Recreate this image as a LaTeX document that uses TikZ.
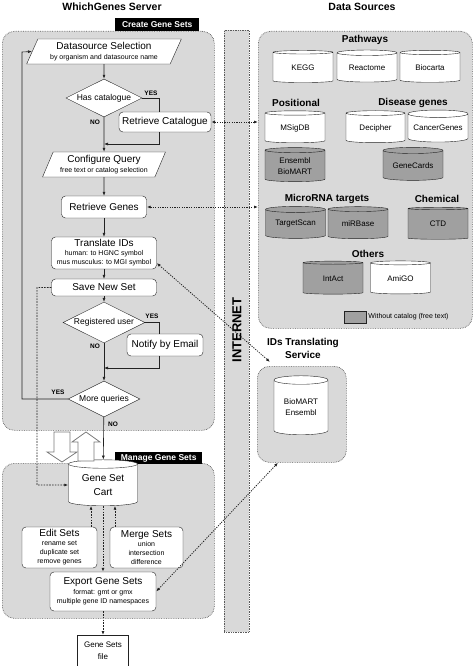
\documentclass[tikz,border=0pt]{standalone}
\usepackage{fontspec}
\setmainfont{Liberation Sans}
\usetikzlibrary{arrows.meta,positioning,shapes.geometric}
\definecolor{WgPanel}{HTML}{D9D9D9}
\definecolor{WgEdge}{HTML}{5A5A5A}
\definecolor{WgDark}{HTML}{A0A0A0}
\definecolor{WgInk}{HTML}{222222}
\definecolor{WgArrow}{HTML}{7A7A7A}
\newcommand{\bigline}[1]{{\fontsize{10}{12}\selectfont #1}}

\begin{document}
\begin{tikzpicture}[x=1pt,y=-1pt,>={Latex[length=4pt,width=3pt]}]
  \tikzset{
    panel/.style={draw=WgEdge, densely dotted, line width=0.7pt, fill=WgPanel, rounded corners=12pt, anchor=north west, inner sep=0pt},
    tag/.style={fill=black, text=white, font=\bfseries\fontsize{8.5}{10}\selectfont, inner sep=0pt, anchor=north west},
    head/.style={font=\bfseries\fontsize{10.5}{12}\selectfont},
    grp/.style={font=\bfseries\fontsize{10}{13}\selectfont, align=center},
    procbox/.style={draw=WgInk, fill=white, rounded corners=4pt, align=center, inner sep=1pt, font=\fontsize{7}{9}\selectfont},
    bigbox/.style={procbox, font=\fontsize{10}{12}\selectfont},
    iobox/.style={trapezium, trapezium left angle=64, trapezium right angle=116, trapezium stretches=true, draw=WgInk, fill=white, align=center, inner sep=0pt, font=\fontsize{7}{9}\selectfont, minimum height=25pt},
    choice/.style={diamond, aspect=2, draw=WgInk, fill=white, inner sep=1pt, font=\fontsize{8.5}{10}\selectfont},
    db/.style={cylinder, shape border rotate=90, aspect=0.15, draw=WgInk, fill=white, align=center, inner sep=0pt, font=\fontsize{8}{10.5}\selectfont, minimum width=60pt, minimum height=32pt},
    dbgray/.style={db, fill=WgDark},
    flow/.style={->, draw=WgInk, line width=0.6pt},
    plain/.style={draw=WgInk, line width=0.6pt},
    feed/.style={->, draw=WgInk, line width=0.8pt, dash pattern=on 1.6pt off 1.2pt},
    link/.style={<->, draw=WgInk, line width=0.8pt, dash pattern=on 1.2pt off 1.2pt},
    ans/.style={font=\bfseries\fontsize{6.5}{7}\selectfont, inner sep=0pt},
    hollow/.style={draw=WgArrow, fill=white, line width=0.8pt}
  }
  \useasboundingbox (0,0) rectangle (474,666);
  % headers
  \node[head] (srvhead) at (112,7) {WhichGenes Server};
  \node[head] (srchead) at (362,7) {Data Sources};
  % panels
  \node[panel, minimum width=212pt, minimum height=399pt] (create) at (2,31) {};
  \node[panel, minimum width=212pt, minimum height=155pt] (manage) at (2,463) {};
  \node[panel, rounded corners=0pt, minimum width=25pt, minimum height=602pt] (net) at (224,30) {};
  \node[panel, minimum width=214pt, minimum height=297pt] (sources) at (258,31) {};
  \node[panel, minimum width=89pt, minimum height=96pt] (idsrv) at (257,366) {};
  \node[tag, minimum width=84pt, minimum height=13pt] (createtag) at (115,18) {Create Gene Sets};
  \node[tag, minimum width=87pt, minimum height=12pt] (managetag) at (115,452) {Manage Gene Sets};
  \node[font=\bfseries\fontsize{13}{14}\selectfont, rotate=90] (nettxt) at (237,330) {INTERNET};

  % create gene sets
  \node[iobox, minimum width=155pt] (dsel) at (104,51.5) {\bigline{Datasource Selection}\\[1pt] by organism and datasource name};
  \node[choice, minimum width=76pt, minimum height=38pt] (hascat) at (104,98) {Has catalogue};
  \node[bigbox, minimum width=92pt, minimum height=20pt] (rcat) at (165,122) {Retrieve Catalogue};
  \node[iobox, minimum width=123pt] (cfg) at (104,164.5) {\bigline{Configure Query}\\[1pt] free text or catalog selection};
  \node[bigbox, minimum width=85pt, minimum height=22pt] (rgen) at (104,207) {Retrieve Genes};
  \node[procbox, minimum width=105pt, minimum height=32pt] (trans) at (104,253) {\bigline{Translate IDs}\\ human: to HGNC symbol\\ mus musculus: to MGI symbol};
  \node[bigbox, minimum width=105pt, minimum height=17pt] (save) at (104,287.5) {Save New Set};
  \node[choice, minimum width=74pt, minimum height=37pt] (reg) at (104,322.5) {Registered user};
  \node[bigbox, minimum width=76pt, minimum height=22pt] (notify) at (165,345) {Notify by Email};
  \node[choice, minimum width=72pt, minimum height=36pt] (more) at (104,399) {More queries};
  \node[ans] (yes1) at (151,93) {YES};
  \node[ans] (no1) at (95,122) {NO};
  \node[ans] (yes2) at (152,316) {YES};
  \node[ans] (no2) at (95,346) {NO};
  \node[ans] (yes3) at (58,392) {YES};
  \node[ans] (no3) at (113,424) {NO};

  % manage gene sets
  \node[db, minimum width=69pt, minimum height=46pt, aspect=0.2, font=\fontsize{10}{14}\selectfont] (cart) at (103,485) {Gene Set\\Cart};
  \node[procbox, minimum width=75pt, minimum height=41pt] (edit) at (59.5,547.5) {\bigline{Edit Sets}\\ rename set\\ duplicate set\\ remove genes};
  \node[procbox, minimum width=73pt, minimum height=41pt] (merge) at (146.5,547.5) {\bigline{Merge Sets}\\ union\\ intersection\\ difference};
  \node[procbox, minimum width=106pt, minimum height=39pt] (export) at (103,591.5) {\bigline{Export Gene Sets}\\[1pt] format: gmt or gmx\\ multiple gene ID namespaces};
  \node[draw=WgInk, fill=white, anchor=north, minimum width=51pt, minimum height=36pt, align=center, font=\fontsize{8}{12}\selectfont, text depth=6pt] (file) at (103,635) {Gene Sets\\file};
  \draw[hollow] (54,432) -- (70,432) -- (70,452) -- (77,452) -- (62,462) -- (47,452) -- (54,452) -- cycle;
  \draw[hollow] (86,432) -- (100,442) -- (94,442) -- (94,461) -- (78,461) -- (78,442) -- (72,442) -- cycle;

  % data sources
  \node[grp] (pathways) at (365,40) {Pathways};
  \node[db] (kegg) at (303,67.5) {KEGG};
  \node[db] (reactome) at (367,67.5) {Reactome};
  \node[db] (biocarta) at (430,67.5) {Biocarta};
  \node[grp] (positional) at (296,103) {Positional};
  \node[grp] (disease) at (413,103) {Disease genes};
  \node[db] (msigdb) at (295,128) {MSigDB};
  \node[db, minimum width=59pt] (decipher) at (375.5,128) {Decipher};
  \node[db] (cancer) at (438,128) {CancerGenes};
  \node[dbgray, minimum height=34pt] (ensembl) at (295,166) {Ensembl\\BioMART};
  \node[dbgray, minimum height=33pt] (genecards) at (413,165.5) {GeneCards};
  \node[grp] (microrna) at (327,199) {MicroRNA targets};
  \node[grp] (chemical) at (437,199) {Chemical};
  \node[dbgray] (targetscan) at (295.5,224) {TargetScan};
  \node[dbgray] (mirbase) at (358,224) {miRBase};
  \node[dbgray] (ctd) at (438,224) {CTD};
  \node[grp] (others) at (368,254) {Others};
  \node[dbgray, minimum height=33pt] (intact) at (333,278.5) {IntAct};
  \node[db, minimum height=33pt] (amigo) at (400.5,278.5) {AmiGO};
  \node[fill=WgDark, draw=WgInk, minimum width=22pt, minimum height=12pt, inner sep=0pt] (key) at (355,317) {};
  \node[right=2pt of key, inner sep=0pt, font=\fontsize{7}{8}\selectfont] (keytxt) {Without catalog (free text)};

  % ids translating service
  \node[grp] (idshead) at (303,348.5) {IDs Translating\\Service};
  \node[db, minimum width=54pt, minimum height=59pt, aspect=0.25, font=\fontsize{8}{11}\selectfont] (biomart) at (301,407.5) {BioMART\\Ensembl};

  % connectors
  \coordinate (loop) at (22,52);
  \coordinate (join1) at (104,144);
  \coordinate (join2) at (104,368);
  \coordinate (bend) at (37,485);
  \foreach \a/\b in {dsel/hascat,hascat/cfg,cfg/rgen,rgen/trans,trans/save,save/reg,reg/more,more/cart}{\draw[flow] (\a) -- (\b);}
  \draw[plain] (hascat.east) -| ([xshift=-6pt]rcat.north);
  \draw[flow] ([xshift=-6pt]rcat.south) |- (join1);
  \draw[plain] (reg.east) -| ([xshift=-6pt]notify.north);
  \draw[flow] ([xshift=-6pt]notify.south) |- (join2);
  \draw[flow] (more.west) -| (loop) -- (dsel.west);
  \draw[feed] (save.west) -| (bend) -- (cart.west);
  \draw[feed] (edit.north -| cart.240) -- (cart.240);
  \draw[feed] (merge.north -| cart.300) -- (cart.300);
  \draw[feed] (cart.south) -- (export.north);
  \draw[feed] (export.south) -- (file.north);
  \draw[link] (rcat.east) -- (rcat.east -| sources.west);
  \draw[link] (rgen.east) -- (rgen.east -| sources.west);
  \draw[link] ([yshift=-10pt]trans.east) -- ([xshift=13pt,yshift=4pt]idsrv.north west);
  \draw[link] (export.east) -- ([xshift=21pt]idsrv.south west);
\end{tikzpicture}
\end{document}
